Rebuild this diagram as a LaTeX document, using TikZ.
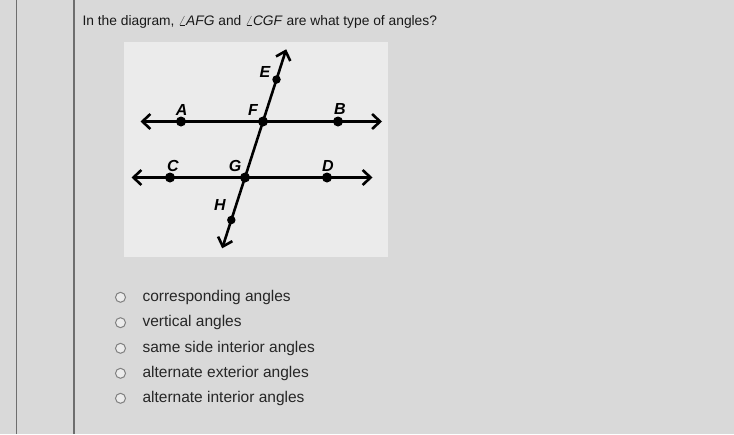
\documentclass[tikz,border=0pt]{standalone}
\usepackage{fontspec}
\setmainfont{Liberation Sans}
\usetikzlibrary{arrows.meta}
\definecolor{pagegrey}{HTML}{D9D9D9}
\definecolor{panelgrey}{HTML}{EBEBEB}
\definecolor{rulegrey}{HTML}{6E6E6E}
\begin{document}
\begin{tikzpicture}[x=1pt,y=-1pt,
  dot/.style={circle,fill=black,inner sep=0pt,minimum width=10pt},
  smalldot/.style={circle,fill=black,inner sep=0pt,minimum width=8.5pt},
  pointlabel/.style={font=\fontsize{16}{16}\selectfont\bfseries\itshape},
  geoline/.style={line width=2.6pt,{Straight Barb[length=8pt,width=15pt,line width=2.6pt]}-{Straight Barb[length=8pt,width=15pt,line width=2.6pt]}},
  radio/.style={circle,draw=gray,fill=panelgrey,line width=1pt,inner sep=0pt,minimum width=10pt},
  choice/.style={anchor=west,text=black!85,font=\fontsize{15.5}{15.5}\selectfont}]
% page and panel
\fill[pagegrey] (0,0) rectangle (734,434);
\useasboundingbox (0,0) rectangle (734,434);
\draw[rulegrey,line width=1pt] (16,0) -- (16,434);
\draw[rulegrey,line width=1.2pt] (74,0) -- (74,434);
\fill[panelgrey] (124,42) rectangle (388,257);
% question
\node[anchor=west,text=black!90,font=\fontsize{13.8}{14}\selectfont] (question) at (79,22)
  {In the diagram, $\angle$\textit{AFG} and $\angle$\textit{CGF} are what type of angles?};
% arrow ends
\coordinate (ABleft) at (140.5,121.5);
\coordinate (ABright) at (382,121.5);
\coordinate (CDleft) at (131.5,177.5);
\coordinate (CDright) at (372.5,177.5);
\coordinate (EHtop) at (286.2,49.3);
\coordinate (EHbottom) at (222.2,248.3);
\draw[geoline] (ABleft) -- (ABright);
\draw[geoline] (CDleft) -- (CDright);
\draw[geoline] (EHbottom) -- (EHtop);
% points
\node[dot] (A) at (181,121.5) {};
\node[dot] (F) at (263,121.5) {};
\node[dot] (B) at (338,121.5) {};
\node[dot] (C) at (170,177.5) {};
\node[dot] (G) at (245,177.5) {};
\node[dot] (D) at (327,177.5) {};
\node[smalldot] (E) at (276.5,79.5) {};
\node[smalldot] (H) at (231.3,220) {};
% labels
\node[pointlabel] (Alabel) at (181.7,110) {A};
\node[pointlabel] (Flabel) at (253,110) {F};
\node[pointlabel] (Blabel) at (340,108.5) {B};
\node[pointlabel] (Clabel) at (173,166) {C};
\node[pointlabel] (Glabel) at (235,166) {G};
\node[pointlabel] (Dlabel) at (328,165.5) {D};
\node[pointlabel] (Elabel) at (265,72) {E};
\node[pointlabel] (Hlabel) at (220,205) {H};
% choices
\node[radio] (r1) at (120.5,297.3) {};
\node[radio] (r2) at (120.5,322.7) {};
\node[radio] (r3) at (120.5,348.3) {};
\node[radio] (r4) at (120.5,373.3) {};
\node[radio] (r5) at (120.5,398.3) {};
\node[choice] (c1) at (139,297.3) {corresponding angles};
\node[choice] (c2) at (139,322.7) {vertical angles};
\node[choice] (c3) at (139,348.3) {same side interior angles};
\node[choice] (c4) at (139,373.3) {alternate exterior angles};
\node[choice] (c5) at (139,398.3) {alternate interior angles};
\end{tikzpicture}
\end{document}
